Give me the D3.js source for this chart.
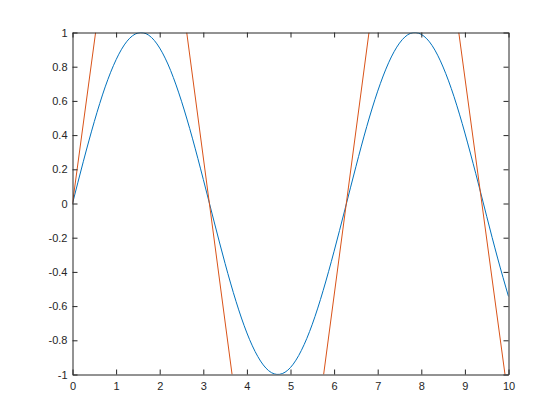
<!DOCTYPE html>
<html>
<head>
<meta charset="utf-8">
<script src="https://cdn.jsdelivr.net/npm/d3@7"></script>
<style>
    body { margin: 0; background: #fff; }
    svg text { font-family: "Liberation Sans", Arial, sans-serif; font-size: 11px; fill: #262626; }
</style>
</head>
<body>
<div id="chart"></div>
<script>
// blue curve, every 0.25 on x
var sinX = d3.range(0, 10.001, 0.25);
var sinY = [0, 0.247, 0.479, 0.682, 0.841, 0.949, 0.997, 0.984, 0.909, 0.778,
    0.598, 0.382, 0.141, -0.108, -0.351, -0.572, -0.757, -0.895, -0.978, -0.999,
    -0.959, -0.859, -0.706, -0.508, -0.279, -0.033, 0.215, 0.451, 0.657, 0.823,
    0.938, 0.995, 0.989, 0.923, 0.798, 0.625, 0.412, 0.174, -0.075, -0.319, -0.544];

// orange straight pieces (start and end points)
var lineStarts = [[0, 0], [2.62, 1], [5.76, -1], [8.86, 1]];
var lineEnds = [[0.53, 1], [3.66, -1], [6.80, 1], [9.92, -1]];

var xTicks = [0, 1, 2, 3, 4, 5, 6, 7, 8, 9, 10];
var yTicks = [-1, -0.8, -0.6, -0.4, -0.2, 0, 0.2, 0.4, 0.6, 0.8, 1];

(function () {
    "use strict";
    var width = 560,
        height = 420,
        margin = {left: 72.5, right: 51.5, top: 32.5, bottom: 45.5},
        svg,
        plot,
        xScale,
        yScale,
        line;

    svg = d3.select('#chart').append('svg')
        .attr('width', width)
        .attr('height', height);

    xScale = d3.scaleLinear().domain([0, 10]).range([margin.left, width - margin.right]);
    yScale = d3.scaleLinear().domain([-1, 1]).range([height - margin.bottom, margin.top]);

    svg.append('clipPath').attr('id', 'clip')
        .append('rect')
        .attr('x', margin.left)
        .attr('y', margin.top)
        .attr('width', xScale(10) - xScale(0))
        .attr('height', yScale(-1) - yScale(1));

    plot = svg.append('g').attr('clip-path', 'url(#clip)');

    line = d3.line()
        .x(function (d) { return xScale(d[0]); })
        .y(function (d) { return yScale(d[1]); })
        .curve(d3.curveNatural);

    plot.append('path')
        .datum(sinX.map(function (x, i) { return [x, sinY[i]]; }))
        .attr('fill', 'none')
        .attr('stroke', '#0072BD')
        .attr('stroke-width', 1)
        .attr('d', line);

    plot.selectAll('.seg')
        .data(lineStarts)
        .enter().append('line')
        .attr('class', 'seg')
        .attr('x1', function (d) { return xScale(d[0]); })
        .attr('y1', function (d) { return yScale(d[1]); })
        .attr('x2', function (d, i) { return xScale(lineEnds[i][0]); })
        .attr('y2', function (d, i) { return yScale(lineEnds[i][1]); })
        .attr('stroke', '#D95319')
        .attr('stroke-width', 1);

    //axes with inward ticks on every side
    function styleAxis(g) {
        g.select('.domain').attr('stroke', '#262626');
        g.selectAll('.tick line').attr('stroke', '#262626');
        g.selectAll('.tick text').style('font-size', '11px').attr('fill', '#262626');
    }

    svg.append('g')
        .attr('transform', 'translate(0,' + yScale(-1) + ')')
        .call(d3.axisBottom(xScale).tickValues(xTicks).tickSizeInner(-5).tickSizeOuter(0).tickPadding(8)
            .tickFormat(d3.format('d')))
        .call(styleAxis);

    svg.append('g')
        .attr('transform', 'translate(0,' + yScale(1) + ')')
        .call(d3.axisTop(xScale).tickValues(xTicks).tickSizeInner(-5).tickSizeOuter(0).tickFormat(''))
        .call(styleAxis);

    svg.append('g')
        .attr('transform', 'translate(' + xScale(0) + ',0)')
        .call(d3.axisLeft(yScale).tickValues(yTicks).tickSizeInner(-5).tickSizeOuter(0).tickPadding(5)
            .tickFormat(function (d) { return d3.format('')(Math.round(d * 10) / 10); }))
        .call(styleAxis);

    svg.append('g')
        .attr('transform', 'translate(' + xScale(10) + ',0)')
        .call(d3.axisRight(yScale).tickValues(yTicks).tickSizeInner(-5).tickSizeOuter(0).tickFormat(''))
        .call(styleAxis);

    svg.selectAll('.tick text').each(function () {
        this.textContent = this.textContent.replace('\u2212', '-');
    });
}());
</script>
</body>
</html>
